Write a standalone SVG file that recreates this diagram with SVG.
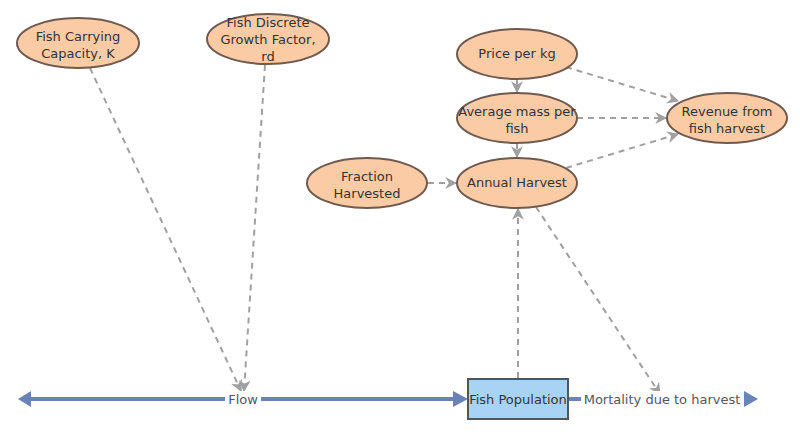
<svg xmlns="http://www.w3.org/2000/svg" width="800" height="438" viewBox="0 0 800 438">
<defs>
<style>
.node ellipse{fill:#fbcba6;stroke:#6e5a4e;stroke-width:2}
.lbl{font-family:"DejaVu Sans","Liberation Sans",sans-serif;font-size:13px;fill:#333;text-anchor:middle}
.link{stroke:#a0a0a0;stroke-width:2;stroke-dasharray:6,5;fill:none;marker-end:url(#ga)}
.flow{stroke:#6a83b6;stroke-width:4;fill:none}
.flbl{font-family:"DejaVu Sans","Liberation Sans",sans-serif;font-size:13px;fill:#556;text-anchor:middle}
</style>
<marker id="ga" viewBox="0 0 10 10" refX="9" refY="5" markerWidth="6" markerHeight="6" orient="auto" markerUnits="strokeWidth">
<path d="M0,0 L10,5 L0,10 L3,5 Z" fill="#a0a0a0"/>
</marker>
</defs>
<rect width="800" height="438" fill="#fff"/>
<g id="connectors">
<line class="link" x1="90" y1="68" x2="241" y2="391"/>
<line class="link" x1="265" y1="65" x2="244" y2="391"/>
<line class="link" x1="517" y1="79" x2="517" y2="92"/>
<line class="link" x1="517" y1="143" x2="517" y2="157"/>
<line class="link" x1="428" y1="183" x2="456" y2="183"/>
<line class="link" x1="566" y1="67" x2="678" y2="101"/>
<line class="link" x1="577" y1="118" x2="666" y2="118"/>
<line class="link" x1="566" y1="168" x2="678" y2="134"/>
<line class="link" x1="518" y1="378" x2="518" y2="209"/>
<line class="link" x1="536" y1="207" x2="660" y2="394"/>
</g>
<g id="flows">
<line class="flow" x1="30" y1="399" x2="458" y2="399"/>
<path d="M18,399 L31,391 L31,407 Z" fill="#6a83b6"/>
<path d="M468,399 L453,391 L453,407 Z" fill="#6a83b6"/>
<line class="flow" x1="568" y1="399" x2="742" y2="399"/>
<path d="M758,399 L744,391 L744,407 Z" fill="#6a83b6"/>
<rect x="225" y="391" width="36" height="16" fill="#fff"/>
<text class="flbl" x="243" y="404">Flow</text>
<rect x="581" y="391" width="162" height="16" fill="#fff"/>
<text class="flbl" x="662" y="404">Mortality due to harvest</text>
</g>
<g id="fish-population">
<rect x="468" y="379" width="100" height="40" fill="#a9d3f5" stroke="#555" stroke-width="2"/>
<text class="lbl" x="518" y="404">Fish Population</text>
</g>
<g id="fish-carrying-capacity" class="node">
<ellipse cx="78" cy="43" rx="61" ry="25"/>
<text class="lbl" x="78" y="41">Fish Carrying</text>
<text class="lbl" x="78" y="58">Capacity, K</text>
</g>
<g id="fish-discrete-growth" class="node">
<ellipse cx="268" cy="39" rx="61" ry="25"/>
<text class="lbl" x="268" y="27">Fish Discrete</text>
<text class="lbl" x="268" y="44">Growth Factor,</text>
<text class="lbl" x="268" y="61">rd</text>
</g>
<g id="price-per-kg" class="node">
<ellipse cx="517" cy="54" rx="60" ry="25"/>
<text class="lbl" x="517" y="58">Price per kg</text>
</g>
<g id="average-mass" class="node">
<ellipse cx="517" cy="118" rx="60" ry="25"/>
<text class="lbl" x="517" y="116">Average mass per</text>
<text class="lbl" x="517" y="133">fish</text>
</g>
<g id="fraction-harvested" class="node">
<ellipse cx="367" cy="183" rx="60" ry="25"/>
<text class="lbl" x="367" y="181">Fraction</text>
<text class="lbl" x="367" y="198">Harvested</text>
</g>
<g id="annual-harvest" class="node">
<ellipse cx="517" cy="183" rx="60" ry="25"/>
<text class="lbl" x="517" y="187">Annual Harvest</text>
</g>
<g id="revenue" class="node">
<ellipse cx="727" cy="118" rx="60" ry="25"/>
<text class="lbl" x="727" y="116">Revenue from</text>
<text class="lbl" x="727" y="133">fish harvest</text>
</g>
</svg>
